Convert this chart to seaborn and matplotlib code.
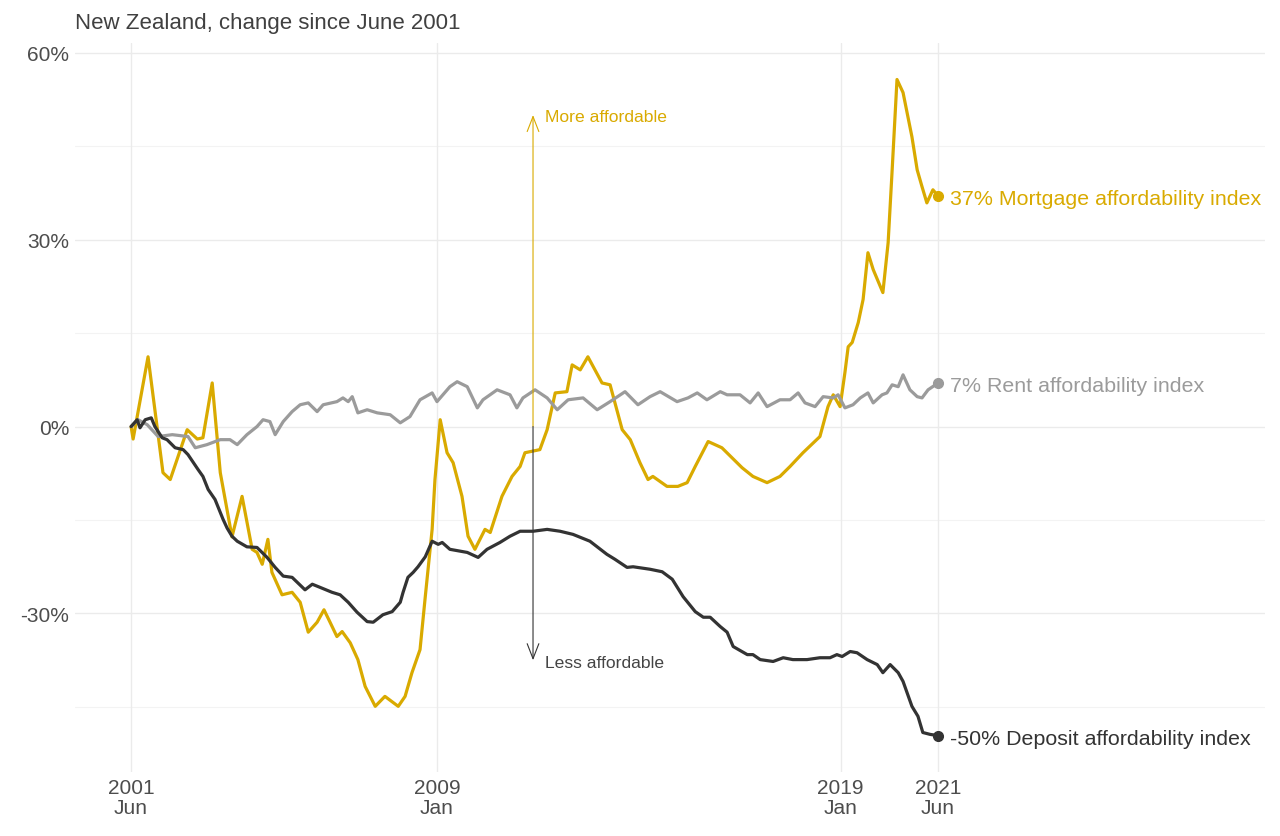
import numpy as np
import pandas as pd
import matplotlib
matplotlib.use("Agg")
import matplotlib.pyplot as plt
import seaborn as sns

# ---------------- data (decimal years, % change since June 2001) ----------------
mort_year = [2001.42, 2001.47, 2001.84, 2002.21, 2002.39, 2002.81, 2003.06, 2003.20, 2003.43, 2003.63,
             2003.92, 2004.17, 2004.42, 2004.54, 2004.67, 2004.81, 2004.91, 2005.16, 2005.41, 2005.61,
             2005.81, 2006.03, 2006.20, 2006.35, 2006.52, 2006.65, 2006.85, 2007.04, 2007.22, 2007.47,
             2007.71, 2008.04, 2008.21, 2008.38, 2008.58, 2008.71, 2008.88, 2008.95, 2009.08, 2009.25,
             2009.40, 2009.62, 2009.77, 2009.94, 2010.19, 2010.32, 2010.61, 2010.86, 2011.06, 2011.18,
             2011.55, 2011.73, 2011.93, 2012.22, 2012.35, 2012.55, 2012.74, 2013.09, 2013.29, 2013.59,
             2013.79, 2014.03, 2014.23, 2014.35, 2014.70, 2014.97, 2015.20, 2015.40, 2015.72, 2016.06,
             2016.56, 2016.83, 2017.18, 2017.50, 2017.75, 2018.07, 2018.49, 2018.69, 2018.82, 2018.99,
             2019.11, 2019.19, 2019.29, 2019.44, 2019.56, 2019.68, 2019.81, 2020.05, 2020.18, 2020.28,
             2020.40, 2020.55, 2020.77, 2020.90, 2021.02, 2021.14, 2021.29, 2021.42]
mort_val = [0.0, -2.0, 11.2, -7.4, -8.5, -0.5, -2.0, -1.8, 7.0, -7.4,
            -17.7, -11.2, -19.7, -20.2, -22.1, -18.1, -23.4, -27.0, -26.6, -28.2,
            -33.0, -31.4, -29.4, -31.4, -33.7, -32.9, -34.7, -37.4, -41.7, -44.9,
            -43.3, -44.9, -43.3, -39.5, -35.8, -27.3, -16.5, -8.5, 1.1, -4.2,
            -5.8, -11.2, -17.6, -19.7, -16.5, -17.0, -11.2, -8.0, -6.4, -4.2,
            -3.7, -0.5, 5.4, 5.6, 9.9, 9.1, 11.2, 7.0, 6.7, -0.5,
            -2.1, -5.8, -8.5, -8.0, -9.6, -9.6, -9.0, -6.4, -2.4, -3.4,
            -6.6, -8.0, -9.0, -8.0, -6.4, -4.2, -1.6, 3.2, 5.1, 3.2,
            8.7, 12.8, 13.5, 16.7, 20.4, 27.9, 25.2, 21.5, 29.5, 41.2,
            55.7, 53.6, 46.5, 41.2, 38.5, 35.9, 38.0, 37.0]

rent_year = [2001.42, 2001.59, 2001.82, 2002.09, 2002.44, 2002.83, 2003.01, 2003.30, 2003.63, 2003.87,
             2004.05, 2004.29, 2004.54, 2004.69, 2004.86, 2004.99, 2005.19, 2005.41, 2005.61, 2005.81,
             2006.03, 2006.18, 2006.52, 2006.67, 2006.80, 2006.90, 2007.04, 2007.27, 2007.52, 2007.84,
             2008.09, 2008.33, 2008.58, 2008.88, 2009.00, 2009.32, 2009.50, 2009.75, 2010.00, 2010.14,
             2010.49, 2010.81, 2010.98, 2011.13, 2011.43, 2011.73, 2011.98, 2012.25, 2012.62, 2012.97,
             2013.29, 2013.66, 2013.98, 2014.28, 2014.53, 2014.95, 2015.22, 2015.45, 2015.69, 2016.02,
             2016.19, 2016.51, 2016.76, 2016.96, 2017.18, 2017.50, 2017.75, 2017.95, 2018.12, 2018.37,
             2018.57, 2018.82, 2018.94, 2019.11, 2019.31, 2019.49, 2019.68, 2019.81, 2020.03, 2020.15,
             2020.28, 2020.43, 2020.55, 2020.72, 2020.90, 2021.02, 2021.17, 2021.42]
rent_val = [0.0, 1.1, 0.3, -1.6, -1.3, -1.6, -3.4, -2.9, -2.1, -2.1,
            -2.9, -1.3, 0.0, 1.1, 0.8, -1.3, 0.8, 2.4, 3.5, 3.8,
            2.4, 3.5, 4.0, 4.6, 4.0, 4.8, 2.2, 2.7, 2.2, 1.9,
            0.6, 1.6, 4.3, 5.4, 4.0, 6.4, 7.2, 6.4, 3.0, 4.3,
            5.9, 5.1, 3.0, 4.6, 5.9, 4.6, 2.7, 4.3, 4.6, 2.7,
            4.0, 5.6, 3.5, 4.8, 5.6, 4.0, 4.6, 5.4, 4.3, 5.6,
            5.1, 5.1, 3.8, 5.4, 3.2, 4.3, 4.3, 5.4, 3.8, 3.2,
            4.8, 4.6, 5.1, 3.0, 3.5, 4.6, 5.4, 3.8, 5.1, 5.4,
            6.7, 6.4, 8.3, 5.9, 4.8, 4.6, 5.9, 7.0]

dep_year = [2001.42, 2001.57, 2001.64, 2001.77, 2001.92, 2002.01, 2002.19, 2002.31, 2002.51, 2002.71,
            2002.83, 2003.08, 2003.20, 2003.33, 2003.50, 2003.70, 2003.80, 2003.92, 2004.05, 2004.29,
            2004.54, 2004.79, 2004.99, 2005.19, 2005.41, 2005.73, 2005.91, 2006.10, 2006.40, 2006.60,
            2006.80, 2007.02, 2007.27, 2007.42, 2007.66, 2007.89, 2008.09, 2008.16, 2008.28, 2008.41,
            2008.53, 2008.71, 2008.88, 2009.03, 2009.13, 2009.32, 2009.75, 2010.02, 2010.24, 2010.56,
            2010.81, 2011.06, 2011.38, 2011.73, 2012.05, 2012.37, 2012.79, 2013.21, 2013.41, 2013.71,
            2013.86, 2014.28, 2014.58, 2014.83, 2015.10, 2015.40, 2015.60, 2015.77, 2016.02, 2016.19,
            2016.34, 2016.69, 2016.83, 2017.01, 2017.33, 2017.58, 2017.82, 2018.17, 2018.49, 2018.74,
            2018.91, 2019.04, 2019.24, 2019.41, 2019.66, 2019.91, 2020.05, 2020.23, 2020.43, 2020.55,
            2020.77, 2020.92, 2021.04, 2021.22, 2021.42]
dep_val = [0.0, 1.1, -0.2, 1.1, 1.4, 0.0, -1.8, -2.1, -3.4, -3.7,
           -4.5, -6.9, -8.0, -10.1, -11.7, -14.9, -16.3, -17.6, -18.4, -19.3,
           -19.4, -21.0, -22.6, -24.0, -24.2, -26.2, -25.3, -25.8, -26.6, -27.0,
           -28.2, -29.8, -31.3, -31.4, -30.2, -29.7, -28.2, -26.6, -24.2, -23.4,
           -22.5, -20.9, -18.4, -18.9, -18.6, -19.7, -20.2, -21.0, -19.7, -18.6,
           -17.6, -16.8, -16.8, -16.5, -16.8, -17.3, -18.4, -20.5, -21.3, -22.6,
           -22.5, -22.9, -23.3, -24.5, -27.3, -29.7, -30.6, -30.6, -32.1, -33.0,
           -35.3, -36.6, -36.6, -37.4, -37.7, -37.1, -37.4, -37.4, -37.1, -37.1,
           -36.6, -36.9, -36.1, -36.3, -37.4, -38.2, -39.5, -38.2, -39.5, -40.9,
           -44.9, -46.5, -49.1, -49.4, -49.6]

series_names = ["Mortgage affordability index", "Rent affordability index", "Deposit affordability index"]
end_labels = ["37%", "7%", "-50%"]
colors = ["#D9AA00", "#9B9B9B", "#333333"]

tick_years = [2001 + 5/12, 2009.0, 2019.0, 2021 + 5/12]
tick_labels = ["2001\nJun", "2009\nJan", "2019\nJan", "2021\nJun"]
y_major = [-30, 0, 30, 60]
y_minor = [-45, -15, 15, 45]
y_labels = ["-30%", "0%", "30%", "60%"]

arrow_year = 2011.38
arrow_up, arrow_down = 50, -37.5

# ---------------- build dataframe ----------------
df = pd.concat([
    pd.DataFrame({"year": mort_year, "value": mort_val, "series": series_names[0]}),
    pd.DataFrame({"year": rent_year, "value": rent_val, "series": series_names[1]}),
    pd.DataFrame({"year": dep_year, "value": dep_val, "series": series_names[2]}),
])

sns.set_theme(style="white")
plt.rcParams["font.family"] = ["Liberation Sans", "DejaVu Sans"]

fig = plt.figure(figsize=(12.8, 8.37), dpi=100)
ax = fig.add_axes([0.0586, 0.076, 0.9297, 0.871])

# grid
for y in y_major:
    ax.axhline(y, color="#EBEBEB", lw=1.0, zorder=0)
for y in y_minor:
    ax.axhline(y, color="#F3F3F3", lw=0.8, zorder=0)
for x in tick_years:
    ax.axvline(x, color="#EBEBEB", lw=1.0, zorder=0)

sns.lineplot(data=df, x="year", y="value", hue="series", palette=dict(zip(series_names, colors)),
             hue_order=series_names, linewidth=2.3, legend=False, ax=ax, estimator=None, sort=False,
             zorder=3)

# end points and labels
for name, lab, col in zip(series_names, end_labels, colors):
    sub = df[df.series == name]
    xe, ye = sub.year.iloc[-1], sub.value.iloc[-1]
    ax.plot([xe], [ye], "o", color=col, ms=7, zorder=4)
    ax.text(xe + 0.3, ye - 0.4, f"{lab} {name}", color=col, fontsize=15.4, va="center", ha="left")

# arrows
ap = dict(arrowstyle="->,head_length=0.9,head_width=0.35", lw=0.8, shrinkA=0, shrinkB=0)
ax.annotate("", xy=(arrow_year, arrow_up), xytext=(arrow_year, 0), arrowprops=dict(ap, color="#D9AA00"))
ax.annotate("", xy=(arrow_year, arrow_down), xytext=(arrow_year, 0), arrowprops=dict(ap, color="#333333"))
ax.text(arrow_year + 0.3, arrow_up - 0.3, "More affordable", color="#D9AA00", fontsize=12.6, va="center")
ax.text(arrow_year + 0.3, arrow_down - 0.3, "Less affordable", color="#444444", fontsize=12.6, va="center")

ax.set_xlim(2000.03, 2029.52)
ax.set_ylim(-55.5, 61.5)
ax.set_xticks(tick_years)
ax.set_xticklabels(tick_labels, linespacing=1.1)
ax.set_yticks(y_major)
ax.set_yticklabels(y_labels)
ax.tick_params(axis="both", length=0, labelsize=15, labelcolor="#4D4D4D", pad=4)
ax.set_xlabel("")
ax.set_ylabel("")
for s in ax.spines.values():
    s.set_visible(False)

fig.text(75 / 1280, 1 - 23 / 837, "New Zealand, change since June 2001", fontsize=16,
         color="#404040", va="center", ha="left")

fig.savefig("out.png", dpi=100, facecolor="white")
